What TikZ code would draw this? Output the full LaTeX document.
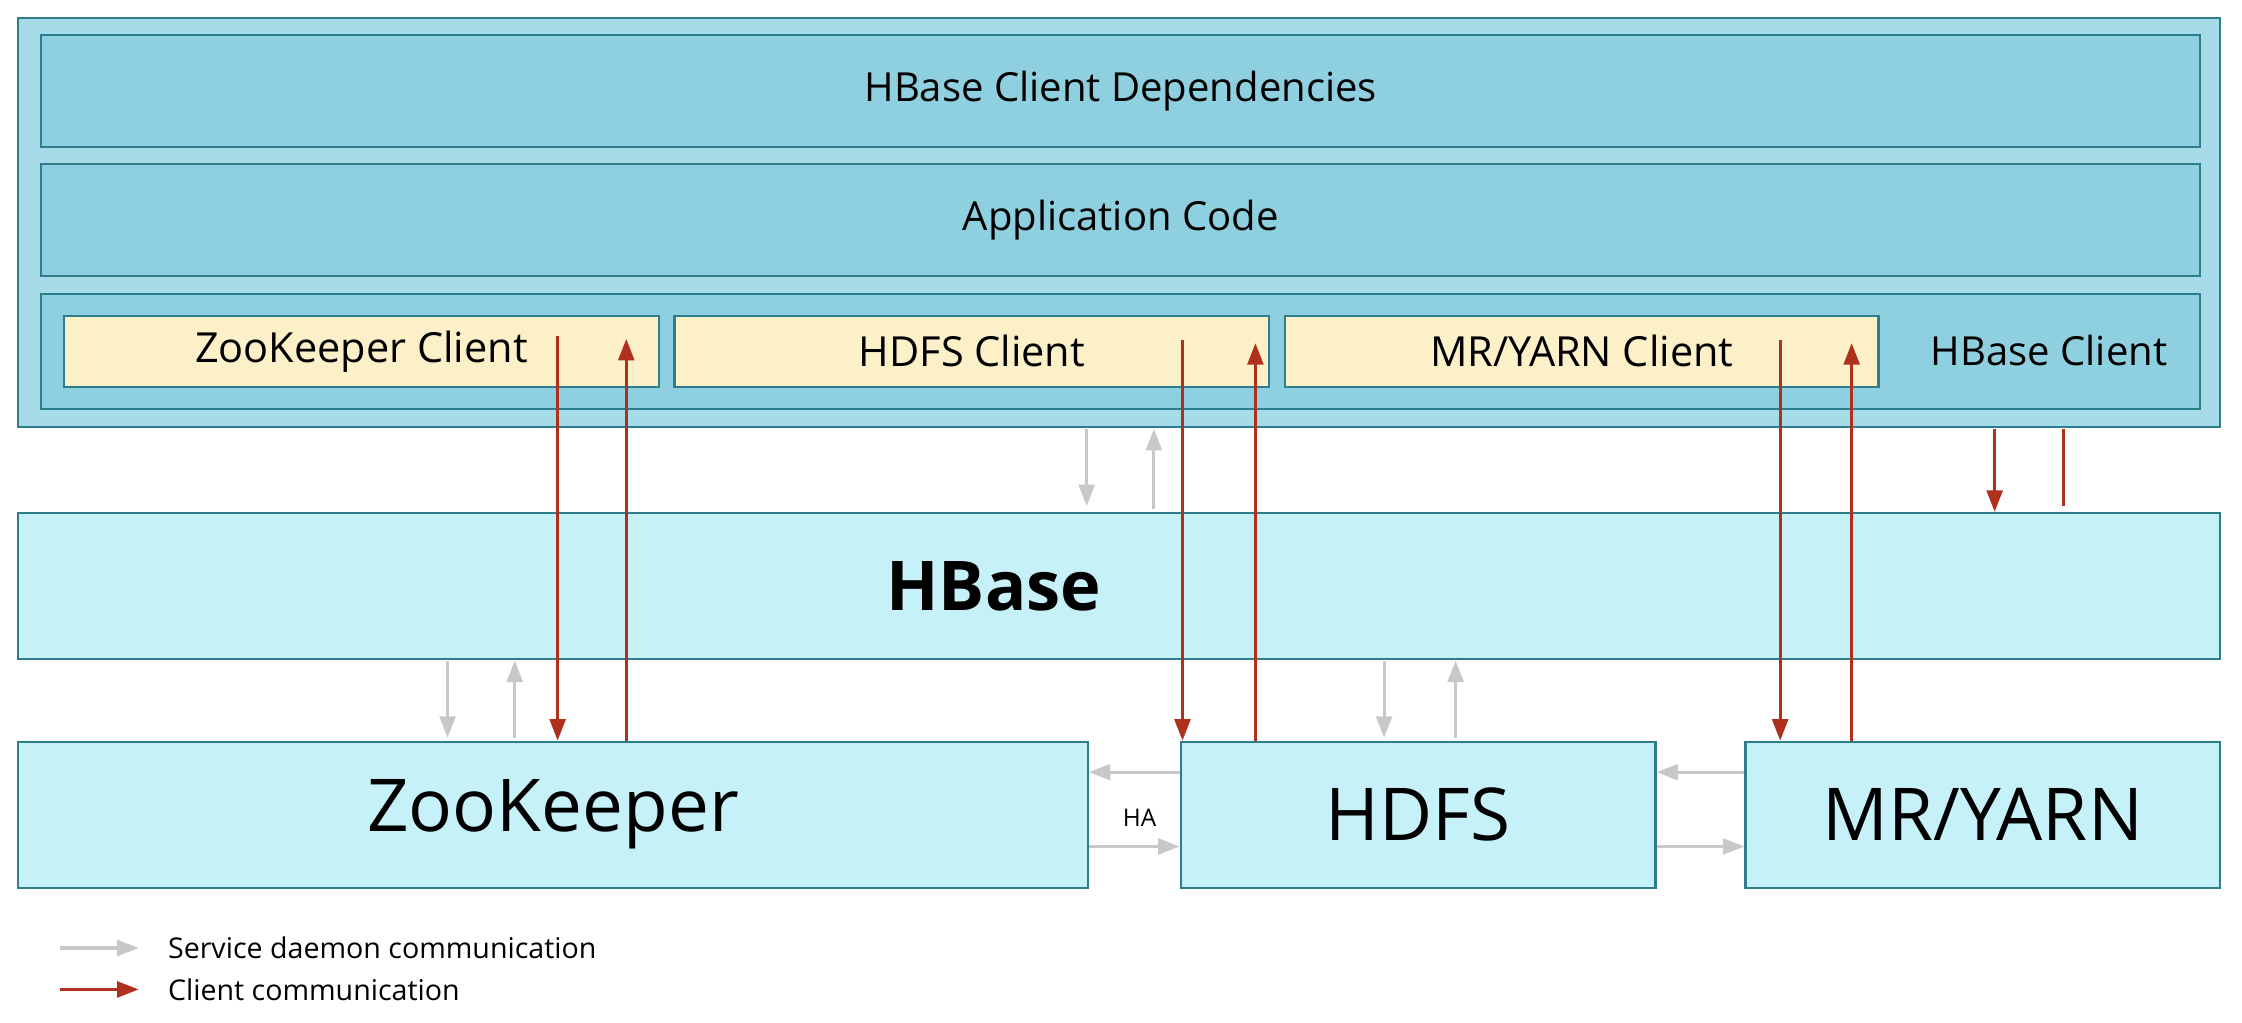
\documentclass[tikz,border=0pt]{standalone}
\usepackage{fontspec}
\setmainfont{Open Sans}
\usetikzlibrary{arrows.meta}
\definecolor{edge}{HTML}{2E7D8C}
\definecolor{outer}{HTML}{A6DCE8}
\definecolor{band}{HTML}{8ED0DF}
\definecolor{cli}{HTML}{FBF0C8}
\definecolor{svc}{HTML}{C6F1F8}
\definecolor{redc}{HTML}{B0301E}
\definecolor{grayc}{HTML}{C8C8C8}
\tikzset{
 box/.style={draw=edge,line width=1.5pt,inner sep=0pt,anchor=north west},
 red/.style={draw=redc,line width=2.2pt,-{Triangle[length=15pt,width=11pt]}},
 grey/.style={draw=grayc,line width=2.2pt,-{Triangle[length=15pt,width=11pt]}},
}
\begin{document}
\begin{tikzpicture}[x=1pt,y=-1pt]
\useasboundingbox (0,0) rectangle (1568,715);
\fill[white] (0,0) rectangle (1568,715);
\node[box,fill=outer,minimum width=1540,minimum height=286] (outer) at (12,12) {};
\node[box,fill=band,minimum width=1510,minimum height=78,font=\fontsize{28}{32}\selectfont] (dep) at (28,24) {HBase Client Dependencies};
\node[box,fill=band,minimum width=1510,minimum height=78,font=\fontsize{28}{32}\selectfont] (app) at (28,114) {Application Code};
\node[box,fill=band,minimum width=1510,minimum height=80] (hc) at (28,205) {};
\node[font=\fontsize{28}{32}\selectfont] (hcl) at (1433,245) {HBase Client};
\node[box,fill=cli,minimum width=416,minimum height=50,font=\fontsize{29}{32}\selectfont] (zkc) at (44,220) {ZooKeeper Client};
\node[box,fill=cli,minimum width=416,minimum height=50,font=\fontsize{29}{32}\selectfont] (hdc) at (471,220) {HDFS Client};
\node[box,fill=cli,minimum width=415,minimum height=50,font=\fontsize{29}{32}\selectfont] (mrc) at (898,220) {MR/YARN Client};
\node[box,fill=svc,minimum width=1540,minimum height=102] (hb) at (12,358) {};
\node[font=\fontsize{48}{54}\selectfont\bfseries] (hbl) at (695,410) {HBase};
\node[box,fill=svc,minimum width=748,minimum height=102,font=\fontsize{51}{56}\selectfont] (zk) at (12,518) {ZooKeeper};
\node[box,fill=svc,minimum width=332,minimum height=102,font=\fontsize{51}{56}\selectfont] (hd) at (825,518) {HDFS};
\node[box,fill=svc,minimum width=332,minimum height=102,font=\fontsize{51}{56}\selectfont] (mr) at (1220,518) {MR/YARN};
% red client arrows
\draw[red] (390,235) -- (390,0 |- zk.north);
\draw[red] (438,0 |- zk.north) -- (438,237);
\draw[red] (827,238) -- (827,0 |- hd.north);
\draw[red] (878,0 |- hd.north) -- (878,240);
\draw[red] (1245,238) -- (1245,0 |- mr.north);
\draw[red] (1295,0 |- mr.north) -- (1295,240);
\draw[red] (1395,300) -- (1395,0 |- hb.north);
\draw[redc,line width=2.2pt] (1443,300) -- (1443,354);
% grey service arrows
\draw[grey] (760,300) -- (760,354);
\draw[grey] (807,356) -- (807,300);
\draw[grey] (313,462) -- (313,516);
\draw[grey] (360,516) -- (360,462);
\draw[grey] (968,462) -- (968,516);
\draw[grey] (1018,516) -- (1018,462);
\draw[grey] (hd.west |- 0,540) -- (zk.east |- 0,540);
\draw[grey] (zk.east |- 0,592) -- (hd.west |- 0,592);
\draw[grey] (mr.west |- 0,540) -- (hd.east |- 0,540);
\draw[grey] (hd.east |- 0,592) -- (mr.west |- 0,592);
\node[font=\fontsize{17}{19}\selectfont] (ha) at (797,572) {HA};
% legend
\coordinate (l1a) at (42,663); \coordinate (l1b) at (97,663);
\coordinate (l2a) at (42,692); \coordinate (l2b) at (97,692);
\draw[grey] (l1a) -- (l1b);
\draw[red] (l2a) -- (l2b);
\node[anchor=west,font=\fontsize{20}{22}\selectfont] (lg1) at (114,663) {Service daemon communication};
\node[anchor=west,font=\fontsize{20}{22}\selectfont] (lg2) at (114,692) {Client communication};
\end{tikzpicture}
\end{document}
